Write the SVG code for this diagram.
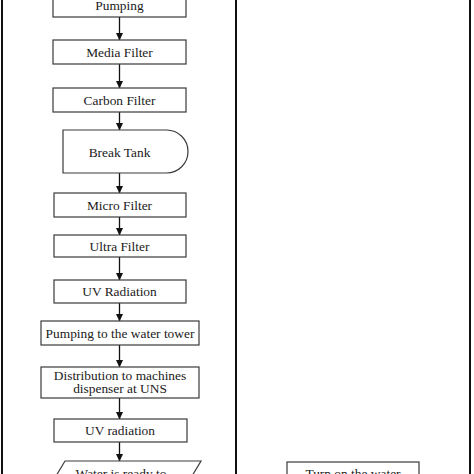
<svg xmlns="http://www.w3.org/2000/svg" width="474" height="474" viewBox="0 0 474 474">
<defs>
<style>
.b{fill:#fff;stroke:#3a3a3a;stroke-width:1.2}
.t{font-family:"Liberation Serif","Times New Roman",serif;font-size:13.4px;fill:#1a1a1a;text-anchor:middle}
.c{stroke:#111;stroke-width:1.3;fill:none}
.frame{stroke:#111;stroke-width:2;fill:none}
</style>
<marker id="ah" markerWidth="8" markerHeight="8" refX="7" refY="4" orient="auto" markerUnits="userSpaceOnUse">
<path d="M0,0.5 L7.5,4 L0,7.5 Z" fill="#111"/>
</marker>
</defs>
<rect width="474" height="474" fill="#fff"/>
<g id="frame">
<line class="frame" x1="2" y1="0" x2="2" y2="474" stroke="#555"/>
<line class="frame" x1="236" y1="0" x2="236" y2="474"/>
<line class="frame" x1="470" y1="0" x2="470" y2="474"/>
</g>
<g id="connectors">
<line class="c" x1="119.5" y1="17" x2="119.5" y2="40" marker-end="url(#ah)"/>
<line class="c" x1="119.5" y1="64" x2="119.5" y2="88" marker-end="url(#ah)"/>
<line class="c" x1="119.5" y1="112" x2="119.5" y2="130" marker-end="url(#ah)"/>
<line class="c" x1="119.5" y1="173" x2="119.5" y2="193" marker-end="url(#ah)"/>
<line class="c" x1="119.5" y1="217" x2="119.5" y2="235" marker-end="url(#ah)"/>
<line class="c" x1="119.5" y1="257" x2="119.5" y2="280" marker-end="url(#ah)"/>
<line class="c" x1="119.5" y1="303" x2="119.5" y2="321" marker-end="url(#ah)"/>
<line class="c" x1="119.5" y1="345" x2="119.5" y2="367" marker-end="url(#ah)"/>
<line class="c" x1="119.5" y1="398" x2="119.5" y2="419" marker-end="url(#ah)"/>
<line class="c" x1="119.5" y1="442" x2="119.5" y2="461" marker-end="url(#ah)"/>
</g>
<g id="pumping"><rect class="b" x="53" y="-7" width="133" height="24"/><text class="t" x="119.5" y="10">Pumping</text></g>
<g id="media-filter"><rect class="b" x="53" y="40" width="133" height="24"/><text class="t" x="119.5" y="56.5">Media Filter</text></g>
<g id="carbon-filter"><rect class="b" x="53" y="88" width="133" height="24"/><text class="t" x="119.5" y="104.5">Carbon Filter</text></g>
<g id="break-tank"><path class="b" d="M63,130 H166.5 A21.5,21.5 0 0 1 166.5,173 H63 Z"/><text class="t" x="119.5" y="156.5">Break Tank</text></g>
<g id="micro-filter"><rect class="b" x="54" y="193" width="132" height="24"/><text class="t" x="119.5" y="209.5">Micro Filter</text></g>
<g id="ultra-filter"><rect class="b" x="54" y="235" width="132" height="22"/><text class="t" x="119.5" y="250.5">Ultra Filter</text></g>
<g id="uv-radiation-1"><rect class="b" x="54" y="280" width="132" height="23"/><text class="t" x="119.5" y="296">UV Radiation</text></g>
<g id="pumping-tower"><rect class="b" x="41" y="321" width="158" height="24"/><text class="t" x="120" y="337.5">Pumping to the water tower</text></g>
<g id="distribution"><rect class="b" x="41" y="367" width="158" height="31"/><text class="t" x="120" y="379.5">Distribution to machines</text><text class="t" x="120" y="393">dispenser at UNS</text></g>
<g id="uv-radiation-2"><rect class="b" x="54" y="419" width="133" height="23"/><text class="t" x="120" y="435">UV radiation</text></g>
<g id="water-ready"><polygon class="b" points="65,461 201,461 180,496 44,496"/><text class="t" x="121" y="478">Water is ready to</text></g>
<g id="turn-on"><rect class="b" x="287" y="462" width="132" height="30"/><text class="t" x="353" y="478">Turn on the water</text></g>
</svg>
